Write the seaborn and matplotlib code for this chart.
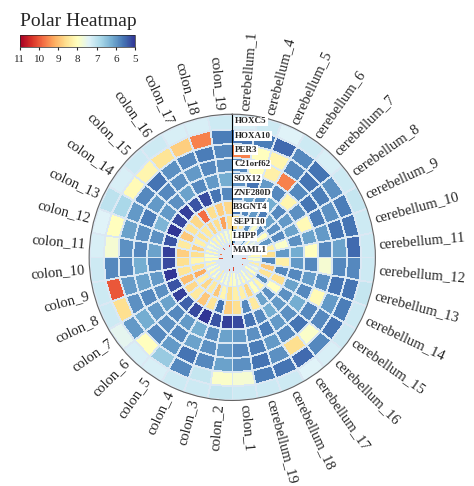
import numpy as np
import matplotlib
matplotlib.use("Agg")
import matplotlib.pyplot as plt
import seaborn as sns

sns.set_style("white")
plt.rcParams['font.family'] = ['Liberation Serif', 'DejaVu Serif']

samples = (["cerebellum_1"] + ["cerebellum_%d" % i for i in range(4, 20)]
           + ["colon_%d" % i for i in range(1, 20)])
genes = ["MAML1", "LHPP", "SEPT10", "B3GNT4", "ZNF280D", "SOX12", "C21orf62", "PER3", "HOXA10", "HOXC5"]

# rows = genes (inner -> outer), columns = samples (clockwise from top)
maml1 = [10.1, 9.8, 7.2, 6.8, 7.0, 9.6, 9.9, 10.2, 9.7, 10.0, 9.8, 10.3, 9.9, 10.1, 9.7, 10.0, 9.8,
         10.2, 9.9, 10.1, 9.8, 10.3, 10.0, 9.9, 10.2, 9.8, 10.1, 10.0, 9.7, 10.2, 9.9, 10.1, 10.0, 9.8, 10.3, 10.0]
lhpp = [5.9, 7.8, 7.2, 6.1, 8.0, 7.6, 6.2, 7.8, 8.1, 7.9, 8.3, 7.7, 8.0, 8.2, 7.9, 8.1, 7.8,
        7.9, 8.1, 7.8, 8.0, 8.3, 7.9, 8.1, 7.8, 8.2, 8.0, 7.9, 8.1, 7.8, 8.0, 8.2, 7.9, 8.1, 7.8, 8.0]
sept10 = [8.6, 8.4, 5.9, 7.9, 5.8, 8.0, 6.0, 8.3, 8.6, 5.8, 8.9, 8.5, 5.9, 8.2, 8.0, 8.7, 8.3,
          8.3, 8.6, 8.2, 8.9, 8.4, 8.7, 8.3, 9.2, 8.5, 8.2, 8.6, 8.8, 8.3, 8.5, 8.4, 8.7, 8.6, 9.3, 8.6]
b3gnt4 = [5.6, 5.8, 6.0, 5.7, 6.1, 5.9, 5.8, 7.9, 6.0, 8.3, 5.8, 8.6, 8.0, 5.9, 6.1, 8.4, 5.8,
          8.6, 8.8, 5.6, 8.5, 8.9, 8.4, 8.7, 9.0, 8.5, 8.6, 8.8, 8.4, 8.9, 8.5, 8.7, 9.8, 8.6, 8.8, 8.7]
znf280d = [5.8, 6.1, 5.9, 6.2, 5.8, 6.0, 6.1, 5.9, 6.2, 6.0, 5.8, 6.1, 5.9, 6.0, 6.2, 5.8, 5.6,
           5.2, 5.1, 5.3, 5.0, 5.2, 5.4, 5.1, 5.3, 5.0, 5.2, 5.1, 5.3, 5.0, 5.2, 5.1, 5.3, 5.2, 5.6, 5.8]
sox12 = [5.9, 5.6, 6.0, 5.8, 8.2, 5.9, 8.1, 6.1, 8.0, 5.8, 6.0, 5.8, 6.2, 5.9, 6.0, 5.7, 5.9,
         6.0, 6.1, 5.9, 6.2, 6.0, 5.8, 6.1, 5.9, 6.0, 5.8, 6.1, 5.9, 6.3, 6.0, 5.9, 6.1, 5.8, 6.0, 6.2]
c21orf62 = [5.8, 8.0, 8.3, 9.6, 5.8, 5.6, 5.7, 6.0, 5.8, 7.8, 5.9, 8.1, 5.8, 5.6, 5.8, 6.0, 5.7,
            5.8, 6.0, 5.9, 6.1, 5.8, 5.9, 6.0, 5.8, 6.1, 6.2, 5.8, 5.9, 5.7, 6.0, 5.8, 5.9, 6.0, 5.8, 5.9]
per3 = [9.6, 8.0, 8.2, 5.8, 5.6, 5.7, 5.9, 5.6, 6.1, 5.8, 5.6, 6.0, 5.8, 7.9, 8.6, 5.9, 5.6,
        5.9, 6.1, 5.8, 5.6, 6.0, 5.8, 6.2, 5.9, 6.0, 5.8, 5.9, 6.1, 6.0, 5.8, 5.6, 5.9, 5.8, 5.7, 5.8]
hoxa10 = [5.6, 5.7, 5.5, 5.8, 5.6, 5.9, 5.7, 5.6, 5.5, 5.8, 5.6, 5.7, 5.6, 5.8, 5.5, 5.6, 5.7,
          7.8, 7.9, 7.1, 5.8, 6.6, 8.0, 6.0, 8.6, 10.0, 5.8, 7.8, 8.0, 6.8, 8.1, 8.2, 8.5, 8.8, 9.6, 5.7]
hoxc5 = [7.3, 7.2, 7.4, 7.2, 7.3, 7.2, 7.1, 7.2, 7.2, 7.2, 7.1, 7.2, 7.2, 7.3, 7.4, 7.2, 7.2,
         7.2, 7.1, 7.2, 7.2, 7.3, 7.3, 7.5, 7.2, 7.2, 7.2, 7.3, 7.4, 7.0, 7.3, 7.2, 7.2, 7.3, 7.3, 7.2]

values = np.array([maml1, lhpp, sept10, b3gnt4, znf280d, sox12, c21orf62, per3, hoxa10, hoxc5])

n = len(samples)
cmap = sns.color_palette("RdYlBu_r", as_cmap=True)

fig = plt.figure(figsize=(4.74, 4.86), dpi=100)
ax = fig.add_axes([0.188, 0.176, 0.604, 0.589], projection="polar")
ax.set_theta_zero_location("N")
ax.set_theta_direction(-1)

theta = np.linspace(0, 2 * np.pi, n + 1)
r = np.arange(len(genes) + 1)
mesh = ax.pcolormesh(theta, r, values, cmap=cmap, vmin=5, vmax=11,
                     edgecolors="#dbe8f3", linewidth=0.6, shading="flat")
ax.set_ylim(0, 10)
ax.set_xticks([])
ax.set_yticks([])
ax.grid(False)
ax.spines["polar"].set_color("#666666")
ax.spines["polar"].set_linewidth(0.8)

# sample labels
for i, s in enumerate(samples):
    a = (i + 0.5) * 360 / n
    t = np.deg2rad(a)
    if a < 180:
        ax.text(t, 10.3, s, rotation=90 - a, rotation_mode="anchor",
                ha="left", va="center", fontsize=10.5)
    else:
        ax.text(t, 10.3, s, rotation=270 - a, rotation_mode="anchor",
                ha="right", va="center", fontsize=10.5)

# gene labels along the top
ax.plot([0, 0], [0, 10], color="black", lw=0.8)
for j, g in enumerate(genes):
    ax.text(0.02 + 0.01 / (j + 1), j + 0.5, g, ha="left", va="center", fontsize=6.5,
            fontweight="bold", bbox=dict(facecolor="white", edgecolor="none", pad=0.6))

cax = fig.add_axes([0.042, 0.903, 0.243, 0.025])
cb = fig.colorbar(mesh, cax=cax, orientation="horizontal")
cb.set_ticks([5, 6, 7, 8, 9, 10, 11])
cax.invert_xaxis()
cax.tick_params(labelsize=8, length=2)
cb.outline.set_linewidth(0.5)

fig.text(0.042, 0.955, "Polar Heatmap", fontsize=14, va="center")

fig.savefig("out.png", dpi=100)
